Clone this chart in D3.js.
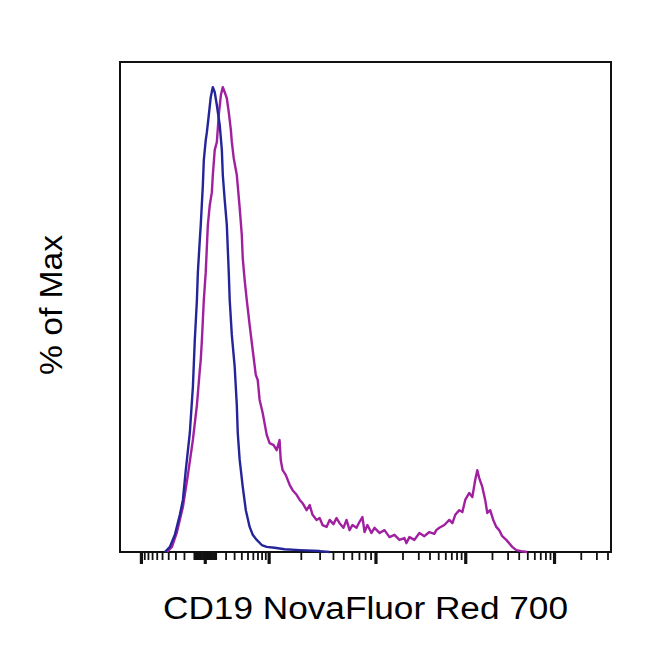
<!DOCTYPE html>
<html>
<head>
<meta charset="utf-8">
<script src="https://cdn.jsdelivr.net/npm/d3@7"></script>
<style>
  body { margin: 0; background: #fff; }
  text { font-family: Arial, "Liberation Sans", sans-serif; }
</style>
</head>
<body>
<div id="chart"></div>
<script>
// histogram data: x in display channels (0-256), y in % of max
const blueChannel = [23.4, 26.0, 28.6, 31.2, 32.8, 34.3, 36.4, 38.0, 39.0, 40.1, 40.6, 41.6, 42.1, 43.2, 43.7, 44.7, 45.3, 46.3, 47.3, 48.4,
  49.4, 50.5, 52.0, 53.1, 53.6, 54.6, 55.7, 56.7, 57.2, 58.3, 59.8, 60.9, 61.4, 62.4, 64.0, 65.6, 67.6, 69.2, 71.3, 73.9,
  76.5, 80.6, 85.8, 93.7, 104.1, 109.3];
const bluePct = [0, 1.1, 3.7, 8.0, 11.2, 17.6, 25.6, 35.5, 45.6, 54.2, 60.2, 67.1, 70.3, 78.9, 84.3, 88.6, 90.3, 94.0, 97.8, 100,
  98.9, 96.1, 91.8, 86.5, 81.1, 75.7, 70.3, 60.2, 54.2, 46.7, 39.8, 31.6, 25.6, 19.8, 14.0, 9.0, 5.4, 3.7, 2.6, 1.5,
  1.1, 0.9, 0.6, 0.4, 0.2, 0];

const magentaChannel = [24.5, 27.1, 29.7, 32.8, 35.4, 38.0, 40.1, 41.6, 42.1, 42.7, 43.7, 44.7, 45.8, 46.8, 47.9, 48.4, 49.4, 50.5, 51.5, 52.6,
  53.6, 54.6, 55.7, 56.7, 57.8, 58.3, 59.3, 60.9, 62.4, 63.5, 64.0, 65.0, 66.1, 67.6, 69.2, 70.8, 71.8, 72.8, 74.4, 76.5,
  78.0, 80.1, 81.7, 83.2, 83.8, 84.8, 86.4, 88.5, 90.0, 92.1, 93.7, 95.2, 97.3, 98.9, 100.4, 102.5, 104.1, 105.6, 107.7, 109.3,
  111.3, 112.9, 114.5, 116.5, 118.1, 119.7, 121.2, 123.3, 124.9, 126.4, 127.5, 129.0, 131.1, 132.7, 135.3, 137.9, 140.5, 143.1, 145.7, 148.3,
  149.3, 150.9, 153.5, 156.1, 158.7, 161.3, 163.9, 164.9, 166.5, 169.1, 171.7, 173.3, 174.8, 176.9, 178.5, 180.0, 182.1, 183.7, 185.2, 186.3,
  187.3, 188.9, 190.4, 191.5, 193.0, 194.6, 196.2, 197.7, 199.3, 201.4, 202.9, 204.5, 206.6, 209.2, 212.3];
const magentaPct = [0, 1.1, 4.3, 9.7, 16.6, 24.1, 31.6, 39.1, 41.3, 45.6, 54.2, 60.2, 70.3, 74.6, 77.4, 81.1, 86.5, 88.2, 94.0, 98.3,
  100, 98.9, 97.6, 94.6, 90.8, 88.2, 84.7, 81.1, 74.0, 68.2, 63.2, 58.5, 54.2, 48.8, 43.4, 38.1, 37.0, 32.7, 29.9, 25.2,
  23.4, 23.0, 21.9, 24.1, 19.8, 17.6, 16.6, 14.4, 13.3, 12.3, 11.2, 10.5, 9.0, 10.1, 8.0, 6.9, 7.3, 5.8, 5.4, 6.9,
  6.0, 7.3, 6.2, 5.2, 6.9, 4.7, 5.8, 5.2, 6.5, 7.5, 4.3, 5.8, 4.1, 5.2, 4.1, 4.7, 3.2, 3.7, 2.6, 3.0,
  1.9, 3.2, 2.6, 4.1, 3.4, 4.3, 3.9, 4.7, 5.2, 5.8, 6.9, 6.2, 8.0, 9.0, 8.6, 11.2, 12.7, 11.8, 15.5, 17.6,
  15.9, 14.0, 11.2, 8.4, 9.0, 6.9, 5.4, 4.7, 3.4, 2.6, 1.9, 1.1, 0.4, 0.2, 0];

// axis: biexponential display, major tick values and their display channels
const majorValues = [-1e3, 0, 1e3, 1e4, 1e5, 1e6];
const decadeExp = [3, 4, 5, 6];
const decadeChannel = [77.5, 133.2, 180.0, 226.3];
const zeroChannel = 44.2, linHalfWidth = 33.3, linW = 300;

const xLabel = "CD19 NovaFluor Red 700";
const yLabel = "% of Max";

const W = 650, H = 662;
const margin = {top: 62, right: 39, bottom: 110, left: 120};
const width = W - margin.left - margin.right;
const height = H - margin.top - margin.bottom;

const x = d3.scaleLinear().domain([0, 256]).range([0, width]);
const y = d3.scaleLinear().domain([0, 105.4]).range([height, 0]);
const logPart = d3.scaleLinear().domain(decadeExp).range(decadeChannel);

function toChannel(v) {
  if (Math.abs(v) <= 1000) {
    return zeroChannel + Math.sign(v) * linHalfWidth * Math.asinh(Math.abs(v) / linW) / Math.asinh(1000 / linW);
  }
  return logPart(Math.log10(v));
}

// minor ticks
const minorValues = [];
for (let k = 10; k < 100; k += 10) { minorValues.push(k, -k); }
for (let k = 100; k < 1000; k += 100) { minorValues.push(k, -k); }
for (let e = 3; e <= 6; e++) {
  for (let m = 2; m <= 9; m++) minorValues.push(m * Math.pow(10, e));
}
const minorTicks = minorValues.map(toChannel).filter(c => c >= 0 && c <= 256);
const majorTicks = majorValues.map(toChannel);

const svg = d3.select("#chart").append("svg")
  .attr("width", W).attr("height", H);

const g = svg.append("g")
  .attr("transform", `translate(${margin.left}, ${margin.top})`);

// frame
g.append("rect")
  .attr("x", 0).attr("y", 0)
  .attr("width", width).attr("height", height)
  .attr("fill", "none")
  .attr("stroke", "#111")
  .attr("stroke-width", 2);

// x ticks
g.append("g")
  .attr("transform", `translate(0, ${height})`)
  .call(d3.axisBottom(x).tickValues(minorTicks).tickSize(8).tickFormat(""))
  .call(a => a.select(".domain").remove())
  .call(a => a.selectAll("line").attr("stroke", "#111").attr("stroke-width", 1.8));

g.append("g")
  .attr("transform", `translate(0, ${height})`)
  .call(d3.axisBottom(x).tickValues(majorTicks).tickSize(12).tickFormat(""))
  .call(a => a.select(".domain").remove())
  .call(a => a.selectAll("line").attr("stroke", "#111").attr("stroke-width", 3.2));

const line = d3.line()
  .x(d => x(d[0]))
  .y(d => y(d[1]));

g.append("path")
  .datum(magentaChannel.map((c, i) => [c, magentaPct[i]]))
  .attr("fill", "none")
  .attr("stroke", "#a020a0")
  .attr("stroke-width", 2.4)
  .attr("stroke-linejoin", "round")
  .attr("d", line);

g.append("path")
  .datum(blueChannel.map((c, i) => [c, bluePct[i]]))
  .attr("fill", "none")
  .attr("stroke", "#25259a")
  .attr("stroke-width", 2.4)
  .attr("stroke-linejoin", "round")
  .attr("d", line);

// labels
svg.append("text")
  .attr("x", margin.left + width / 2)
  .attr("y", 619)
  .attr("text-anchor", "middle")
  .attr("font-size", 31)
  .attr("textLength", 405)
  .attr("lengthAdjust", "spacingAndGlyphs")
  .text(xLabel);

svg.append("text")
  .attr("transform", "translate(62, 305) rotate(-90)")
  .attr("text-anchor", "middle")
  .attr("font-size", 32)
  .attr("textLength", 140)
  .attr("lengthAdjust", "spacingAndGlyphs")
  .text(yLabel);
</script>
</body>
</html>
